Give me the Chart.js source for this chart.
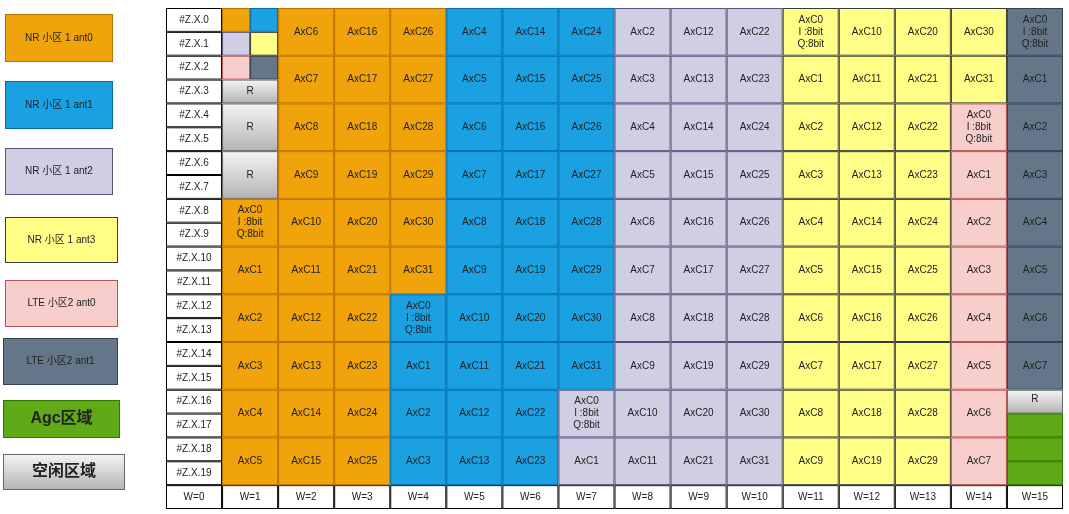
<!DOCTYPE html>
<html><head><meta charset="utf-8">
<script src="https://cdn.jsdelivr.net/npm/chart.js@4"></script>
<style>html,body{margin:0;padding:0;background:#fff}#wrap{width:1069px;height:514px}</style>
</head><body><div id="wrap"><canvas id="c" width="1069" height="514"></canvas></div>
<script>
const rowLabels = ["#Z.X.0","#Z.X.1","#Z.X.2","#Z.X.3","#Z.X.4","#Z.X.5","#Z.X.6","#Z.X.7","#Z.X.8","#Z.X.9","#Z.X.10","#Z.X.11","#Z.X.12","#Z.X.13","#Z.X.14","#Z.X.15","#Z.X.16","#Z.X.17","#Z.X.18","#Z.X.19"];
const colLabels = ["W=0","W=1","W=2","W=3","W=4","W=5","W=6","W=7","W=8","W=9","W=10","W=11","W=12","W=13","W=14","W=15"];
const IQ = "AxC0\nI :8bit\nQ:8bit";
// each column W=2..W=14: 10 two-row blocks, "colourKey:label"
const w2 = ["o:AxC6","o:AxC7","o:AxC8","o:AxC9","o:AxC10","o:AxC11","o:AxC12","o:AxC13","o:AxC14","o:AxC15"];
const w3 = ["o:AxC16","o:AxC17","o:AxC18","o:AxC19","o:AxC20","o:AxC21","o:AxC22","o:AxC23","o:AxC24","o:AxC25"];
const w4 = ["o:AxC26","o:AxC27","o:AxC28","o:AxC29","o:AxC30","o:AxC31","b:"+IQ,"b:AxC1","b:AxC2","b:AxC3"];
const w5 = ["b:AxC4","b:AxC5","b:AxC6","b:AxC7","b:AxC8","b:AxC9","b:AxC10","b:AxC11","b:AxC12","b:AxC13"];
const w6 = ["b:AxC14","b:AxC15","b:AxC16","b:AxC17","b:AxC18","b:AxC19","b:AxC20","b:AxC21","b:AxC22","b:AxC23"];
const w7 = ["b:AxC24","b:AxC25","b:AxC26","b:AxC27","b:AxC28","b:AxC29","b:AxC30","b:AxC31","l:"+IQ,"l:AxC1"];
const w8 = ["l:AxC2","l:AxC3","l:AxC4","l:AxC5","l:AxC6","l:AxC7","l:AxC8","l:AxC9","l:AxC10","l:AxC11"];
const w9 = ["l:AxC12","l:AxC13","l:AxC14","l:AxC15","l:AxC16","l:AxC17","l:AxC18","l:AxC19","l:AxC20","l:AxC21"];
const w10 = ["l:AxC22","l:AxC23","l:AxC24","l:AxC25","l:AxC26","l:AxC27","l:AxC28","l:AxC29","l:AxC30","l:AxC31"];
const w11 = ["y:"+IQ,"y:AxC1","y:AxC2","y:AxC3","y:AxC4","y:AxC5","y:AxC6","y:AxC7","y:AxC8","y:AxC9"];
const w12 = ["y:AxC10","y:AxC11","y:AxC12","y:AxC13","y:AxC14","y:AxC15","y:AxC16","y:AxC17","y:AxC18","y:AxC19"];
const w13 = ["y:AxC20","y:AxC21","y:AxC22","y:AxC23","y:AxC24","y:AxC25","y:AxC26","y:AxC27","y:AxC28","y:AxC29"];
const w14 = ["y:AxC30","y:AxC31","p:"+IQ,"p:AxC1","p:AxC2","p:AxC3","p:AxC4","p:AxC5","p:AxC6","p:AxC7"];
// W=1 and W=15 special cells: [x0,x1,y0,y1,"colour:label"] in grid units
const w1Cells = [[1,1.5,0,1,"o:"],[1.5,2,0,1,"b:"],[1,1.5,1,2,"l:"],[1.5,2,1,2,"y:"],[1,1.5,2,3,"p:"],[1.5,2,2,3,"s:"],[1,2,3,4,"r:R"],[1,2,4,6,"r:R"],[1,2,6,8,"r:R"],[1,2,8,10,"o:"+IQ],[1,2,10,12,"o:AxC1"],[1,2,12,14,"o:AxC2"],[1,2,14,16,"o:AxC3"],[1,2,16,18,"o:AxC4"],[1,2,18,20,"o:AxC5"]];
const w15 = ["s:"+IQ,"s:AxC1","s:AxC2","s:AxC3","s:AxC4","s:AxC5","s:AxC6","s:AxC7"];
const w15Tail = [[16,17,"r:R"],[17,18,"g:"],[18,19,"g:"],[19,20,"g:"]];
const legendItems = [["o","NR 小区 1 ant0"],["b","NR 小区 1 ant1"],["l","NR 小区 1 ant2"],["y","NR 小区 1 ant3"],["p","LTE 小区2 ant0"],["s","LTE 小区2 ant1"],["g","Agc区域"],["r","空闲区域"]];

const FILL = {o:"#F0A30A",b:"#1BA1E2",l:"#D0CEE2",y:"#FFFF88",p:"#F8CECC",s:"#647687",g:"#60A917",w:"#ffffff"};
const STROKE = {o:"#BD7000",b:"#006EAF",l:"#56517E",y:"#36393D",p:"#B85450",s:"#314354",g:"#2D7600",r:"#666666",w:"#000000"};
const FONT = "Liberation Sans, Arial, sans-serif";

const gridPlugin = {
  id: "grid",
  afterDraw(chart) {
    const ctx = chart.ctx, X = chart.scales.x, Y = chart.scales.y;
    function cell(x0,x1,y0,y1,spec,stroke){
      const i = spec.indexOf(":"); const k = spec.slice(0,i), t = spec.slice(i+1);
      const px0 = X.getPixelForValue(x0), px1 = X.getPixelForValue(x1);
      const py0 = Y.getPixelForValue(y0), py1 = Y.getPixelForValue(y1);
      if (k === "r") {
        const g = ctx.createLinearGradient(0,py0,0,py1);
        g.addColorStop(0,"#f5f5f5"); g.addColorStop(1,"#b3b3b3"); ctx.fillStyle = g;
      } else ctx.fillStyle = FILL[k];
      ctx.fillRect(px0,py0,px1-px0,py1-py0);
      ctx.strokeStyle = stroke || STROKE[k]; ctx.lineWidth = 1;
      ctx.strokeRect(px0+0.5,py0+0.5,px1-px0-1,py1-py0-1);
      if (t) {
        ctx.fillStyle = "#222"; ctx.font = "10px " + FONT; ctx.textAlign = "center"; ctx.textBaseline = "middle";
        const lines = t.split("\n"), lh = 12, cy = (py0+py1)/2 - (lines.length-1)*lh/2 + (k==="r"&&y1-y0===1&&y0===16?-2:0);
        lines.forEach((s,j)=>ctx.fillText(s,(px0+px1)/2,cy+j*lh));
      }
    }
    ctx.save();
    rowLabels.forEach((s,r)=>cell(0,1,r,r+1,"w:"+s,"#000"));
    colLabels.forEach((s,c)=>cell(c,c+1,20,21,"w:"+s,"#000"));
    w1Cells.forEach(a=>cell(a[0],a[1],a[2],a[3],a[4]));
    [w2,w3,w4,w5,w6,w7,w8,w9,w10,w11,w12,w13,w14].forEach((col,ci)=>{
      col.forEach((spec,bi)=>cell(ci+2,ci+3,bi*2,bi*2+2,spec));
    });
    w15.forEach((spec,bi)=>cell(15,16,bi*2,bi*2+2,spec));
    w15Tail.forEach(a=>cell(15,16,a[0],a[1],a[2]));
    // legend
    const boxes = [[5,113,14,62],[5,113,81,129],[5,113,148,195],[5,118,217,263],[5,118,280,327],[3,118,338,385],[3,120,400,438],[3,125,454,490]];
    legendItems.forEach((it,i)=>{
      const b = boxes[i], k = it[0];
      if (k === "r") { const g = ctx.createLinearGradient(0,b[2],0,b[3]); g.addColorStop(0,"#f5f5f5"); g.addColorStop(1,"#b3b3b3"); ctx.fillStyle = g; }
      else ctx.fillStyle = FILL[k];
      ctx.fillRect(b[0],b[2],b[1]-b[0],b[3]-b[2]);
      ctx.strokeStyle = STROKE[k]; ctx.strokeRect(b[0]+0.5,b[2]+0.5,b[1]-b[0]-1,b[3]-b[2]-1);
      ctx.fillStyle = "#222"; ctx.textAlign = "center"; ctx.textBaseline = "middle";
      ctx.font = (i >= 6 ? "bold 16px " : "10px ") + "Liberation Sans, 'Noto Sans CJK SC', sans-serif";
      ctx.fillText(it[1],(b[0]+b[1])/2,(b[2]+b[3])/2);
    });
    ctx.restore();
  }
};

new Chart(document.getElementById("c"), {
  type: "scatter",
  data: { datasets: [{ data: [] }] },
  options: {
    responsive: false, animation: false, events: [],
    layout: { padding: { left: 166, top: 8, right: 6, bottom: 5 } },
    plugins: { legend: { display: false }, tooltip: { enabled: false } },
    scales: {
      x: { type: "linear", min: 0, max: 16, display: false },
      y: { type: "linear", min: 0, max: 21, reverse: true, display: false }
    }
  },
  plugins: [gridPlugin]
});
</script></body></html>
